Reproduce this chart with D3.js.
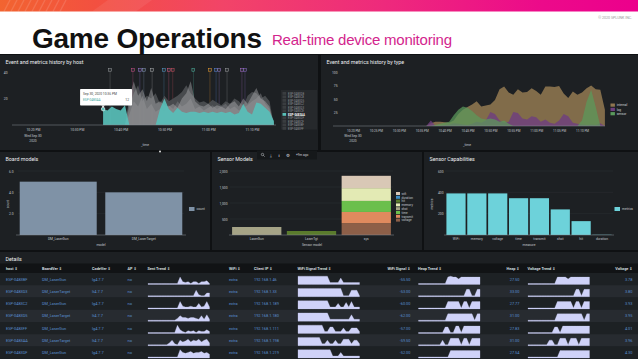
<!DOCTYPE html>
<html>
<head>
<meta charset="utf-8">
<script src="https://cdn.jsdelivr.net/npm/d3@7"></script>
<style>
  body { margin: 0; background: #fff; }
  svg { display: block; font-family: Roboto, 'DejaVu Sans', sans-serif; }
</style>
</head>
<body>
<script>
// sample grid: minutes after 10:20 PM, Sep 30 2020
const sampleMinutes = [16, 17, 18, 19, 20, 21, 22, 23, 24, 25, 26, 27, 28, 29, 30, 31, 32, 33, 34, 35, 36, 37, 38, 39, 40, 41, 42, 43, 44, 45, 46, 47, 48, 49, 50, 51, 52, 53, 54, 55]

// events by host (the highlighted one is ESP-0483AA)
const hostAA = [12, 11, 14, 12, 11, 15, 0, null, null, null, null, null, 0, 12, 20, 12, 9, 13, 10, 9, 10, 10, 9, 10, 9, 10, 9, 10, 9, 10, 8, 9, 16, 10, 8, 17, 16, 13, 10, 3]
const hostD5 = [0, 0, 0, 0, 0, 0, 20, 33, 22, 27, 18, 28, 16, 18, 15, 14, 16, 13, 20, 24, 33, 18, 15, 14, 16, 13, 15, 14, 12, 16, 18, 14, 20, 16, 22, 28, 20, 18, 14, 0]
const hostC2 = [0, 0, 0, 0, 0, 0, 14, 24, 30, 18, 22, 20, 24, 16, 22, 18, 20, 22, 25, 30, 24, 20, 17, 18, 16, 19, 17, 15, 18, 16, 20, 18, 14, 22, 25, 24, 20, 22, 18, 0]
const hostDF = [0, 0, 0, 0, 0, 0, 8, 18, 14, 22, 12, 16, 10, 12, 10, 15, 12, 18, 14, 16, 20, 12, 14, 11, 13, 15, 12, 14, 16, 12, 14, 11, 13, 15, 18, 20, 24, 16, 12, 0]
const hostLegend = ['ESP-0483D8', 'ESP-0483C8', 'ESP-0483D5', 'ESP-0483C2', 'ESP-0483D3', 'ESP-0483CE', 'ESP-0483AA', 'ESP-0483DF', 'ESP-0483CF', 'ESP-0483BF', 'ESP-0483FF']
const hostTickMinutes = [0, 10, 20, 30, 40, 50]
const hostYTicks = [20, 40]

const annotationMinutes = [17.6, 22.8, 24.4, 25.3, 27.2, 29.9, 31.0, 31.9, 36.6, 40.4, 41.8, 42.5, 44.3, 47.7, 48.4]
const annotationColors = ['#9a9da0', '#d0508a', '#9a78d8', '#8aa0c0', '#b0b2b4', '#5aa0d0', '#e0608a', '#d05060', '#4fbfa8', '#f0a030', '#5a8ae0', '#a080d0', '#a0a2a4', '#b070d0', '#9070d0']

// events by type
const typeInternal = [0, 5, 8, 8, 7, 6, 10, 22, 30, 35, 40, 46, 36, 38, 40, 48, 68, 73, 62, 58, 68, 62, 63, 70, 65, 58, 73, 73, 72, 74, 60, 52, 64, 58, 62, 70, 75, 68, 67, 30]
const typeLog = [0, 10, 0, 0, 2, 3, 5, 4, 3, 2, 4, 8, 6, 10, 26, 22, 10, 6, 8, 26, 24, 14, 12, 18, 16, 8, 12, 6, 4, 10, 22, 18, 6, 4, 3, 2, 3, 2, 5, 0]
const typeSensor = [0, 0, 2, 4, 6, 8, 20, 30, 36, 34, 28, 20, 14, 12, 14, 12, 8, 10, 4, 0, 0, 0, 0, 0, 0, 0, 0, 0, 0, 0, 0, 0, 0, 0, 10, 45, 67, 35, 0, 0]
const typeTickMinutes = [0, 5, 10, 15, 20, 25, 30, 35, 40, 45, 50]
const typeYTicks = [25, 50, 75, 100]

// board models
const boardModels = ['DM_LaserGun', 'DM_LaserTarget']
const boardCounts = [5, 4]

// sensor models, stacked by sensor
const sensorModels = ['LaserGun', 'LaserTgt', 'sys']
const sensorKeys = ['wifi', 'duration', 'hit', 'memory', 'shot', 'time', 'transmit', 'voltage']
const sensorWifi = [0, 0, 385]
const sensorDuration = [0, 0, 0]
const sensorHit = [0, 125, 0]
const sensorMemory = [0, 0, 400]
const sensorShot = [250, 0, 0]
const sensorTime = [0, 0, 345]
const sensorTransmit = [0, 0, 350]
const sensorVoltage = [0, 0, 370]
const sensorColors = ['#d9c8b6', '#3f8fc6', '#5a7b2c', '#e3eab4', '#a5a386', '#6bbf4c', '#df8a5e', '#8d5f48']

// sensor capabilities
const capMeasures = ['WiFi', 'memory', 'voltage', 'time', 'transmit', 'shot', 'hit', 'duration']
const capValues = [390, 390, 390, 345, 345, 240, 130, 2]

// details table
const hosts = ['ESP-0483BF', 'ESP-0483D3', 'ESP-0483C2', 'ESP-0483D5', 'ESP-0483FF', 'ESP-0483AA', 'ESP-0483DF']
const boardVers = ['DM_LaserGun', 'DM_LaserTarget', 'DM_LaserGun', 'DM_LaserTarget', 'DM_LaserGun', 'DM_LaserTarget', 'DM_LaserGun']
const codeVers = ['lg4.7.7', 'lt4.7.7', 'lg4.7.7', 'lt4.7.7', 'lg4.7.7', 'lt4.7.7', 'lg4.7.7']
const aps = ['no', 'no', 'no', 'no', 'no', 'no', 'no']
const wifis = ['extra', 'extra', 'extra', 'extra', 'extra', 'extra', 'extra']
const clientIps = ['192.168.1.46', '192.168.1.33', '192.168.1.189', '192.168.1.180', '192.168.1.111', '192.168.1.198', '192.168.1.219']
const wifiSignals = [-55.5, -53.0, -60.0, -62.0, -57.0, -59.5, -52.0]
const heaps = [27.5, 33.0, 27.77, 31.0, 27.83, 31.0, 27.54]
const voltages = [3.78, 3.8, 3.93, 3.95, 4.01, 3.96, 4.3]

const sentTrends = [
  [1, 1, 1, 1, 1, 1, 1, 1, 1, 1, 1, 1, 8, 3, 2, 3, 1, 3, 3, 1, 3, 3, 4, 1],
  [1, 1, 1, 1, 1, 1, 1, 1, 1, 1, 1, 1, 1, 1, 1, 1, 1, 1, 7, 2, 1, 1, 4, 4],
  [1, 1, 1, 1, 1, 1, 1, 1, 1, 1, 1, 1, 8, 3, 2, 2, 3, 2, 2, 6, 2, 3, 8, 2],
  [1, 1, 1, 1, 1, 1, 1, 1, 1, 1, 1, 3, 6, 4, 4, 3, 4, 4, 3, 2, 6, 2, 7, 2],
  [1, 1, 1, 1, 1, 1, 1, 1, 1, 1, 1, 9, 4, 2, 1, 3, 2, 3, 1, 3, 2, 2, 4, 2],
  [1, 1, 1, 1, 1, 1, 1, 1, 3, 6, 2, 1, 6, 4, 5, 7, 4, 6, 5, 7, 4, 6, 7, 3],
  [1, 1, 1, 1, 1, 1, 1, 1, 1, 1, 1, 1, 9, 6, 5, 6, 7, 5, 6, 6, 7, 5, 6, 4]
]
const wifiTrends = [
  [9, 9, 9, 9, 9, 9, 9, 9, 9, 9, 9, 9, 2, 2, 2, 2, 7, 2, 2, 2, 2, 2, 2, 2],
  [9, 9, 9, 9, 9, 9, 9, 9, 9, 9, 9, 9, 9, 9, 9, 9, 9, 1, 1, 1, 7, 7, 7, 1],
  [9, 9, 9, 9, 9, 9, 9, 9, 9, 9, 9, 9, 2, 2, 2, 6, 2, 2, 7, 2, 8, 2, 2, 2],
  [9, 9, 9, 9, 9, 9, 9, 9, 9, 9, 9, 9, 2, 2, 2, 2, 2, 2, 2, 2, 7, 2, 2, 2],
  [9, 9, 9, 9, 9, 9, 9, 9, 9, 9, 2, 2, 7, 7, 2, 2, 2, 6, 2, 2, 6, 6, 6, 2],
  [9, 9, 9, 9, 9, 9, 9, 9, 9, 2, 2, 6, 2, 2, 6, 2, 2, 7, 7, 7, 2, 6, 6, 2],
  [9, 9, 9, 9, 9, 9, 9, 9, 9, 9, 9, 9, 9, 2, 2, 2, 6, 2, 2, 2, 2, 2, 2, 2]
]
const heapTrends = [
  [1, 1, 1, 1, 1, 1, 1, 1, 1, 1, 1, 8, 9, 8, 8, 6, 8, 8, 8, 8, 8, 8, 8, 8],
  [1, 1, 1, 1, 1, 1, 1, 1, 1, 1, 1, 1, 1, 1, 1, 1, 1, 1, 8, 8, 1, 1, 8, 8],
  [1, 1, 1, 1, 1, 1, 1, 1, 1, 1, 1, 8, 8, 8, 8, 8, 1, 8, 8, 1, 8, 8, 8, 8],
  [1, 1, 1, 1, 1, 1, 1, 1, 1, 1, 1, 8, 8, 8, 8, 8, 8, 8, 8, 8, 8, 1, 8, 8],
  [1, 1, 1, 1, 1, 1, 1, 1, 1, 1, 7, 7, 1, 1, 8, 8, 1, 8, 8, 8, 8, 8, 8, 8],
  [1, 1, 1, 1, 1, 1, 1, 1, 1, 6, 1, 1, 8, 8, 8, 8, 1, 8, 8, 1, 8, 8, 8, 8],
  [1, 1, 1, 1, 1, 1, 1, 1, 1, 1, 1, 1, 8, 8, 8, 8, 8, 8, 8, 8, 8, 8, 8, 8]
]
const voltageTrends = [
  [1, 1, 1, 1, 1, 1, 1, 1, 1, 1, 1, 8, 8, 8, 8, 6, 8, 8, 8, 8, 8, 8, 8, 8],
  [1, 1, 1, 1, 1, 1, 1, 1, 1, 1, 1, 1, 1, 1, 1, 1, 1, 1, 8, 8, 1, 8, 8, 8],
  [1, 1, 1, 1, 1, 1, 1, 1, 1, 1, 1, 8, 8, 8, 8, 8, 8, 1, 8, 8, 1, 8, 8, 8],
  [1, 1, 1, 1, 1, 1, 1, 1, 1, 1, 1, 8, 8, 8, 8, 8, 8, 8, 8, 8, 8, 1, 8, 8],
  [1, 1, 1, 1, 1, 1, 1, 1, 1, 1, 7, 7, 1, 8, 8, 8, 8, 8, 8, 8, 8, 8, 8, 8],
  [1, 1, 1, 1, 1, 1, 1, 1, 6, 6, 1, 1, 8, 8, 8, 1, 8, 8, 8, 1, 8, 8, 8, 8],
  [1, 1, 1, 1, 1, 1, 1, 1, 1, 1, 1, 1, 8, 8, 8, 8, 8, 8, 8, 8, 8, 8, 8, 8]
]

const base = new Date(2020, 8, 30, 22, 20)
const minute = m => new Date(base.getTime() + m * 60000)
const timeFmt = d3.timeFormat('%-I:%M %p')

const textColor = '#c3c8cd'
const panelFill = '#1d2023'

const svg = d3
  .select('body')
  .append('svg')
  .attr('width', 638)
  .attr('height', 359)

// ---- slide header ----
const grad = svg.append('defs').append('linearGradient').attr('id', 'topbar')
grad
  .selectAll('stop')
  .data([['0%', '#f26430'], ['15%', '#f35040'], ['35%', '#f24468'], ['60%', '#ee2a7c'], ['85%', '#ec0a8a'], ['100%', '#ec008c']])
  .enter()
  .append('stop')
  .attr('offset', d => d[0])
  .attr('stop-color', d => d[1])

svg.append('rect').attr('width', 638).attr('height', 11.5).attr('fill', 'url(#topbar)')
svg
  .append('g')
  .selectAll('line')
  .data([4, 11, 18, 25, 32, 39, 46, 53, 60])
  .enter()
  .append('line')
  .attr('x1', d => d)
  .attr('x2', d => d + 6)
  .attr('y1', 11.5)
  .attr('y2', 0)
  .attr('stroke', '#fff')
  .attr('stroke-opacity', 0.13)
  .attr('stroke-width', 1.4)
svg.append('polygon').attr('points', '92,11.5 108,0 152,0 136,11.5').attr('fill', '#fff').attr('opacity', 0.07)

svg
  .append('text')
  .attr('x', 632)
  .attr('y', 19)
  .attr('text-anchor', 'end')
  .attr('font-size', 3.6)
  .attr('fill', '#9a9a9a')
  .text('© 2020 SPLUNK INC.')

svg
  .append('text')
  .attr('x', 32)
  .attr('y', 48)
  .attr('font-family', "'Liberation Sans', Arial, sans-serif")
  .attr('font-weight', 700)
  .attr('font-size', 28)
  .attr('textLength', 230)
  .attr('fill', '#111')
  .text('Game Operations')

svg
  .append('text')
  .attr('x', 272)
  .attr('y', 45)
  .attr('font-family', "'Liberation Sans', Arial, sans-serif")
  .attr('font-size', 15)
  .attr('textLength', 180)
  .attr('fill', '#d3258d')
  .text('Real-time device monitoring')

// ---- dashboard frame ----
svg.append('rect').attr('y', 54).attr('width', 638).attr('height', 305).attr('fill', '#0f1113')

function panel(x, y, w, h, title) {
  svg.append('rect').attr('x', x).attr('y', y).attr('width', w).attr('height', h).attr('fill', panelFill)
  svg
    .append('text')
    .attr('x', x + 5.5)
    .attr('y', y + 9.3)
    .attr('fill', '#eceff1')
    .attr('font-size', 5.3)
    .text(title)
}

panel(0, 55, 318, 95, 'Event and metrics history by host')
panel(321, 55, 317, 95, 'Event and metrics history by type')
panel(0, 152, 210, 98, 'Board models')
panel(212, 152, 210, 98, 'Sensor Models')
panel(424, 152, 214, 98, 'Sensor Capabilities')
panel(0, 252, 638, 107, 'Details')

function styleAxis(g, size) {
  g.attr('font-family', null).attr('font-size', size)
  g.select('.domain').remove()
  g.selectAll('text').attr('fill', textColor)
  g.selectAll('line').attr('stroke', '#6a6f74').attr('stroke-width', 0.5)
}

function dateLines(x) {
  svg
    .append('text')
    .attr('x', x)
    .attr('y', 136.6)
    .attr('text-anchor', 'middle')
    .attr('font-size', 3.3)
    .attr('fill', textColor)
    .text('Wed Sep 30')
  svg
    .append('text')
    .attr('x', x)
    .attr('y', 141.6)
    .attr('text-anchor', 'middle')
    .attr('font-size', 3.3)
    .attr('fill', textColor)
    .text('2020')
}

// ---- event and metrics history by host ----
const hostX = d3.scaleTime().domain([minute(0), minute(50)]).range([33, 252])
const hostY = d3.scaleLinear().domain([0, 40]).range([125, 72])

const hostArea = d3
  .area()
  .defined(d => d[1] !== null)
  .x(d => hostX(minute(d[0])))
  .y0(hostY(0))
  .y1(d => hostY(d[1]))

svg
  .append('g')
  .selectAll('line')
  .data(annotationMinutes)
  .enter()
  .append('line')
  .attr('x1', d => hostX(minute(d)))
  .attr('x2', d => hostX(minute(d)))
  .attr('y1', 70)
  .attr('y2', hostY(0))
  .attr('stroke', (d, i) => annotationColors[i])
  .attr('stroke-width', 0.6)
  .attr('opacity', 0.4)

const hostSeries = [
  { values: hostC2, fill: '#4b4e51', opacity: 0.95 },
  { values: hostDF, fill: '#76797c', opacity: 0.55 },
  { values: hostD5, fill: '#b4b6b8', opacity: 0.42 },
  { values: hostAA, fill: '#58bfb8', opacity: 0.92 }
]

svg
  .append('g')
  .selectAll('path')
  .data(hostSeries)
  .enter()
  .append('path')
  .attr('d', d => hostArea(sampleMinutes.map((m, i) => [m, d.values[i]])))
  .attr('fill', d => d.fill)
  .attr('opacity', d => d.opacity)

svg
  .append('g')
  .selectAll('rect')
  .data(annotationMinutes)
  .enter()
  .append('rect')
  .attr('x', d => hostX(minute(d)) - 1.4)
  .attr('y', 68.6)
  .attr('width', 2.8)
  .attr('height', 2.6)
  .attr('fill', '#2a2d30')
  .attr('stroke', (d, i) => annotationColors[i])
  .attr('stroke-width', 0.5)

svg.append('line').attr('x1', 12).attr('x2', 276).attr('y1', hostY(0)).attr('y2', hostY(0)).attr('stroke', '#8a8f94').attr('stroke-width', 0.5)

svg
  .append('g')
  .attr('transform', `translate(0,${hostY(0)})`)
  .call(d3.axisBottom(hostX).tickValues(hostTickMinutes.map(minute)).tickFormat(timeFmt).tickSize(0).tickPadding(4))
  .call(g => styleAxis(g, 3.3))
dateLines(hostX(minute(0)))

svg
  .append('g')
  .attr('transform', 'translate(7.5,0)')
  .call(d3.axisLeft(hostY).tickValues(hostYTicks).tickSize(0).tickPadding(0))
  .call(g => styleAxis(g, 3.3))

svg.append('text').attr('x', 145).attr('y', 145.5).attr('text-anchor', 'middle').attr('font-size', 3.4).attr('fill', textColor).text('_time')
svg.append('circle').attr('cx', 160).attr('cy', 151.5).attr('r', 1).attr('fill', '#e0e0e0')

// legend
svg.append('rect').attr('x', 281).attr('y', 90).attr('width', 36).attr('height', 39.5).attr('fill', '#26292c')
const hostLegendItems = svg
  .append('g')
  .selectAll('g')
  .data(hostLegend)
  .enter()
  .append('g')
  .attr('transform', (d, i) => `translate(282.5,${92 + i * 3.5})`)
hostLegendItems
  .append('rect')
  .attr('width', 3.6)
  .attr('height', 2.8)
  .attr('fill', d => (d === 'ESP-0483AA' ? '#58bfb8' : '#3a3d40'))
hostLegendItems
  .append('text')
  .attr('x', 5.5)
  .attr('y', 2.5)
  .attr('font-size', 2.9)
  .attr('fill', d => (d === 'ESP-0483AA' ? '#ffffff' : '#8e9297'))
  .attr('font-weight', d => (d === 'ESP-0483AA' ? 700 : 400))
  .text(d => d)

// hover tooltip on ESP-0483AA
const tipX = hostX(minute(sampleMinutes[0]))
const tipY = hostY(hostAA[0])
svg.append('circle').attr('cx', tipX).attr('cy', tipY).attr('r', 1.8).attr('fill', '#58bfb8').attr('stroke', '#fff').attr('stroke-width', 0.6)
svg.append('rect').attr('x', tipX - 23).attr('y', 89).attr('width', 52).attr('height', 16.5).attr('rx', 0.8).attr('fill', '#ffffff')
svg.append('path').attr('d', `M${tipX - 1.8},105.4L${tipX},107.6L${tipX + 1.8},105.4Z`).attr('fill', '#ffffff')
svg.append('text').attr('x', tipX - 20).attr('y', 94.6).attr('font-size', 3.3).attr('fill', '#3c3f42').text('Sep 30, 2020 ' + timeFmt(minute(sampleMinutes[0])))
svg.append('text').attr('x', tipX - 20).attr('y', 101).attr('font-size', 3.1).attr('fill', '#3aa69e').text('ESP-0483AA')
svg.append('text').attr('x', tipX + 26).attr('y', 101).attr('text-anchor', 'end').attr('font-size', 3.3).attr('fill', '#3c3f42').text(hostAA[0])

// ---- event and metrics history by type ----
const typeX = d3.scaleTime().domain([minute(0), minute(50)]).range([353, 582])
const typeY = d3.scaleLinear().domain([0, 100]).range([126, 72])

const typeArea = d3
  .area()
  .x(d => typeX(minute(d[0])))
  .y0(typeY(0))
  .y1(d => typeY(d[1]))

const typeSeries = [
  { name: 'internal', values: typeInternal, fill: '#8f7650', opacity: 0.88 },
  { name: 'log', values: typeLog, fill: '#6e3f80', opacity: 0.8 },
  { name: 'sensor', values: typeSensor, fill: '#5a9a5c', opacity: 0.72 }
]

svg
  .append('g')
  .selectAll('path')
  .data(typeSeries)
  .enter()
  .append('path')
  .attr('d', d => typeArea(sampleMinutes.map((m, i) => [m, d.values[i]])))
  .attr('fill', d => d.fill)
  .attr('opacity', d => d.opacity)

svg.append('line').attr('x1', 333).attr('x2', 605).attr('y1', typeY(0)).attr('y2', typeY(0)).attr('stroke', '#8a8f94').attr('stroke-width', 0.5)

svg
  .append('g')
  .attr('transform', `translate(0,${typeY(0)})`)
  .call(d3.axisBottom(typeX).tickValues(typeTickMinutes.map(minute)).tickFormat(timeFmt).tickSize(0).tickPadding(3.8))
  .call(g => styleAxis(g, 3.1))
dateLines(typeX(minute(0)))

svg
  .append('g')
  .attr('transform', 'translate(337.5,0)')
  .call(d3.axisLeft(typeY).tickValues(typeYTicks).tickSize(0).tickPadding(0))
  .call(g => styleAxis(g, 3.3))

svg.append('text').attr('x', 467).attr('y', 145.5).attr('text-anchor', 'middle').attr('font-size', 3.4).attr('fill', textColor).text('_time')

const typeLegendItems = svg
  .append('g')
  .selectAll('g')
  .data(typeSeries)
  .enter()
  .append('g')
  .attr('transform', (d, i) => `translate(610.5,${103.5 + i * 4.3})`)
typeLegendItems.append('rect').attr('width', 4.4).attr('height', 3.2).attr('fill', d => d.fill)
typeLegendItems.append('text').attr('x', 6.2).attr('y', 2.8).attr('font-size', 3.2).attr('fill', '#d0d4d8').text(d => d.name)

// ---- board models ----
const bmX = d3.scaleBand().domain(boardModels).range([18, 184]).paddingInner(0.1).paddingOuter(0.02)
const bmY = d3.scaleLinear().domain([0, 6]).range([235, 171])

svg
  .append('g')
  .selectAll('line')
  .data([2, 4, 6])
  .enter()
  .append('line')
  .attr('x1', 18)
  .attr('x2', 184)
  .attr('y1', d => bmY(d))
  .attr('y2', d => bmY(d))
  .attr('stroke', '#2d3135')
  .attr('stroke-width', 0.5)

svg
  .append('g')
  .selectAll('rect')
  .data(boardModels)
  .enter()
  .append('rect')
  .attr('x', d => bmX(d))
  .attr('width', bmX.bandwidth())
  .attr('y', (d, i) => bmY(boardCounts[i]))
  .attr('height', (d, i) => bmY(0) - bmY(boardCounts[i]))
  .attr('fill', '#7f92a6')

svg.append('line').attr('x1', 16).attr('x2', 186).attr('y1', bmY(0)).attr('y2', bmY(0)).attr('stroke', '#8a8f94').attr('stroke-width', 0.5)
svg
  .append('g')
  .attr('transform', `translate(0,${bmY(0)})`)
  .call(d3.axisBottom(bmX).tickSize(0).tickPadding(2.4))
  .call(g => styleAxis(g, 3.3))
svg
  .append('g')
  .attr('transform', 'translate(13.5,0)')
  .call(d3.axisLeft(bmY).tickValues([2, 4, 6]).tickSize(0).tickPadding(0))
  .call(g => styleAxis(g, 3.3))

svg.append('text').attr('x', 101).attr('y', 246).attr('text-anchor', 'middle').attr('font-size', 3.3).attr('fill', textColor).text('model')
svg.append('text').attr('transform', 'translate(8.5,204) rotate(-90)').attr('text-anchor', 'middle').attr('font-size', 3.3).attr('fill', textColor).text('count')
svg.append('rect').attr('x', 189).attr('y', 207).attr('width', 5.5).attr('height', 4).attr('fill', '#7f92a6')
svg.append('text').attr('x', 196.5).attr('y', 210.3).attr('font-size', 3.3).attr('fill', textColor).text('count')

// ---- sensor models ----
const smX = d3.scaleBand().domain(sensorModels).range([231, 392]).paddingInner(0.1).paddingOuter(0.02)
const smY = d3.scaleLinear().domain([0, 2000]).range([235, 171])
const sensorColor = d3.scaleOrdinal().domain(sensorKeys).range(sensorColors)

const sensorValues = {
  wifi: sensorWifi,
  duration: sensorDuration,
  hit: sensorHit,
  memory: sensorMemory,
  shot: sensorShot,
  time: sensorTime,
  transmit: sensorTransmit,
  voltage: sensorVoltage
}
const sensorTable = sensorModels.map((model, i) => {
  const row = { model: model }
  sensorKeys.forEach(k => {
    row[k] = sensorValues[k][i]
  })
  return row
})
const sensorStack = d3.stack().keys(sensorKeys.slice().reverse())(sensorTable)

svg
  .append('g')
  .selectAll('line')
  .data([500, 1000, 1500, 2000])
  .enter()
  .append('line')
  .attr('x1', 230)
  .attr('x2', 393)
  .attr('y1', d => smY(d))
  .attr('y2', d => smY(d))
  .attr('stroke', '#2d3135')
  .attr('stroke-width', 0.5)

svg
  .append('g')
  .selectAll('g')
  .data(sensorStack)
  .enter()
  .append('g')
  .attr('fill', d => sensorColor(d.key))
  .selectAll('rect')
  .data(d => d)
  .enter()
  .append('rect')
  .attr('x', d => smX(d.data.model))
  .attr('width', smX.bandwidth())
  .attr('y', d => smY(d[1]))
  .attr('height', d => smY(d[0]) - smY(d[1]))

svg.append('line').attr('x1', 229).attr('x2', 394).attr('y1', smY(0)).attr('y2', smY(0)).attr('stroke', '#8a8f94').attr('stroke-width', 0.5)
svg
  .append('g')
  .attr('transform', `translate(0,${smY(0)})`)
  .call(d3.axisBottom(smX).tickSize(0).tickPadding(2.4))
  .call(g => styleAxis(g, 3.3))
svg
  .append('g')
  .attr('transform', 'translate(227.5,0)')
  .call(d3.axisLeft(smY).tickValues([500, 1000, 1500, 2000]).tickFormat(d3.format(',')).tickSize(0).tickPadding(0))
  .call(g => styleAxis(g, 3.3))

svg.append('text').attr('x', 312).attr('y', 246).attr('text-anchor', 'middle').attr('font-size', 3.3).attr('fill', textColor).text('Sensor model')

const sensorLegend = svg
  .append('g')
  .selectAll('g')
  .data(sensorKeys)
  .enter()
  .append('g')
  .attr('transform', (d, i) => `translate(396,${192 + i * 3.8})`)
sensorLegend.append('rect').attr('width', 4).attr('height', 3).attr('fill', d => sensorColor(d))
sensorLegend.append('text').attr('x', 5.5).attr('y', 2.7).attr('font-size', 3.1).attr('fill', textColor).text(d => d)

// panel toolbar
svg.append('rect').attr('x', 257).attr('y', 150.5).attr('width', 60).attr('height', 9).attr('fill', '#15181a')
svg.append('circle').attr('cx', 262.5).attr('cy', 154.5).attr('r', 1.2).attr('fill', 'none').attr('stroke', '#d0d4d8').attr('stroke-width', 0.5)
svg.append('line').attr('x1', 263.4).attr('y1', 155.4).attr('x2', 264.6).attr('y2', 156.6).attr('stroke', '#d0d4d8').attr('stroke-width', 0.6)
svg.append('text').attr('x', 271).attr('y', 156.5).attr('text-anchor', 'middle').attr('font-size', 4).attr('fill', '#d0d4d8').text('⤓')
svg.append('text').attr('x', 279).attr('y', 156.5).attr('text-anchor', 'middle').attr('font-size', 4).attr('font-weight', 700).attr('fill', '#d0d4d8').text('i')
svg.append('text').attr('x', 288).attr('y', 156.8).attr('text-anchor', 'middle').attr('font-size', 4.4).attr('fill', '#d0d4d8').text('⚙')
svg.append('text').attr('x', 296).attr('y', 156.4).attr('font-size', 3.1).attr('fill', '#d0d4d8').text('+9m ago')

// ---- sensor capabilities ----
const capX = d3.scaleBand().domain(capMeasures).range([446, 612]).paddingInner(0.08).paddingOuter(0.02)
const capY = d3.scaleLinear().domain([0, 600]).range([235, 171])

svg
  .append('g')
  .selectAll('line')
  .data([200, 400, 600])
  .enter()
  .append('line')
  .attr('x1', 445)
  .attr('x2', 613)
  .attr('y1', d => capY(d))
  .attr('y2', d => capY(d))
  .attr('stroke', '#2d3135')
  .attr('stroke-width', 0.5)

svg
  .append('g')
  .selectAll('rect')
  .data(capMeasures)
  .enter()
  .append('rect')
  .attr('x', d => capX(d))
  .attr('width', capX.bandwidth())
  .attr('y', (d, i) => capY(capValues[i]))
  .attr('height', (d, i) => capY(0) - capY(capValues[i]))
  .attr('fill', '#6dd2da')

svg.append('line').attr('x1', 444).attr('x2', 614).attr('y1', capY(0)).attr('y2', capY(0)).attr('stroke', '#8a8f94').attr('stroke-width', 0.5)
svg
  .append('g')
  .attr('transform', `translate(0,${capY(0)})`)
  .call(d3.axisBottom(capX).tickSize(0).tickPadding(2.4))
  .call(g => styleAxis(g, 3.3))
svg
  .append('g')
  .attr('transform', 'translate(443.5,0)')
  .call(d3.axisLeft(capY).tickValues([200, 400, 600]).tickSize(0).tickPadding(0))
  .call(g => styleAxis(g, 3.3))

svg.append('text').attr('x', 529).attr('y', 246).attr('text-anchor', 'middle').attr('font-size', 3.3).attr('fill', textColor).text('measure')
svg.append('text').attr('transform', 'translate(432.5,204) rotate(-90)').attr('text-anchor', 'middle').attr('font-size', 3.3).attr('fill', textColor).text('metrics')
svg.append('rect').attr('x', 614.5).attr('y', 207).attr('width', 5.5).attr('height', 4).attr('fill', '#6dd2da')
svg.append('text').attr('x', 622).attr('y', 210.3).attr('font-size', 3.3).attr('fill', textColor).text('metrics')

// ---- details table ----
const rowTop = 273
const rowH = 12.25
const linkColor = '#5a8fd0'

const columns = [
  { label: 'host', x: 6, values: hosts },
  { label: 'BoardVer', x: 42, values: boardVers },
  { label: 'CodeVer', x: 92, values: codeVers },
  { label: 'AP', x: 127.5, values: aps },
  { label: 'Sent Trend', x: 147.5, trend: sentTrends },
  { label: 'WiFi', x: 229, values: wifis },
  { label: 'Client IP', x: 254, values: clientIps },
  { label: 'WiFi Signal Trend', x: 297.5, trend: wifiTrends },
  { label: 'WiFi Signal', x: 410.5, end: true, values: wifiSignals.map(v => v.toFixed(2)) },
  { label: 'Heap Trend', x: 418, trend: heapTrends },
  { label: 'Heap', x: 519.5, end: true, values: heaps.map(v => v.toFixed(2)) },
  { label: 'Voltage Trend', x: 527.5, trend: voltageTrends },
  { label: 'Voltage', x: 632.5, end: true, values: voltages.map(v => v.toFixed(2)) }
]

svg.append('rect').attr('x', 0).attr('y', 263.5).attr('width', 638).attr('height', 9.5).attr('fill', '#111315')

svg
  .append('g')
  .selectAll('rect')
  .data(hosts)
  .enter()
  .append('rect')
  .attr('x', 0)
  .attr('width', 638)
  .attr('y', (d, i) => rowTop + i * rowH)
  .attr('height', rowH)
  .attr('fill', (d, i) => (i % 2 === 0 ? '#1d2124' : '#272b30'))

svg
  .append('g')
  .selectAll('text')
  .data(columns)
  .enter()
  .append('text')
  .attr('x', d => d.x)
  .attr('y', 269.8)
  .attr('text-anchor', d => (d.end ? 'end' : 'start'))
  .attr('font-size', 3.8)
  .attr('font-weight', 600)
  .attr('fill', '#dfe2e5')
  .text(d => d.label + ' ⇕')

const sparkIndex = d3.scaleLinear().domain([0, 23])

columns.forEach(col => {
  if (col.values) {
    svg
      .append('g')
      .selectAll('text')
      .data(col.values)
      .enter()
      .append('text')
      .attr('x', col.x)
      .attr('y', (d, i) => rowTop + i * rowH + 7.6)
      .attr('text-anchor', col.end ? 'end' : 'start')
      .attr('font-size', 3.9)
      .attr('fill', linkColor)
      .text(d => d)
  } else {
    const sx = sparkIndex.copy().range([col.x + 0.5, col.x + 62])
    col.trend.forEach((series, r) => {
      const top = rowTop + r * rowH
      const sy = d3.scaleLinear().domain([0, 9]).range([top + 11.4, top + 3.2])
      const spark = d3
        .area()
        .x((d, i) => sx(i))
        .y0(sy(0))
        .y1(d => sy(d))
      svg
        .append('path')
        .attr('d', spark(series))
        .attr('fill', '#cfd2f8')
        .attr('stroke', '#c4c7ee')
        .attr('stroke-width', 0.3)
    })
  }
})
</script>
</body>
</html>
